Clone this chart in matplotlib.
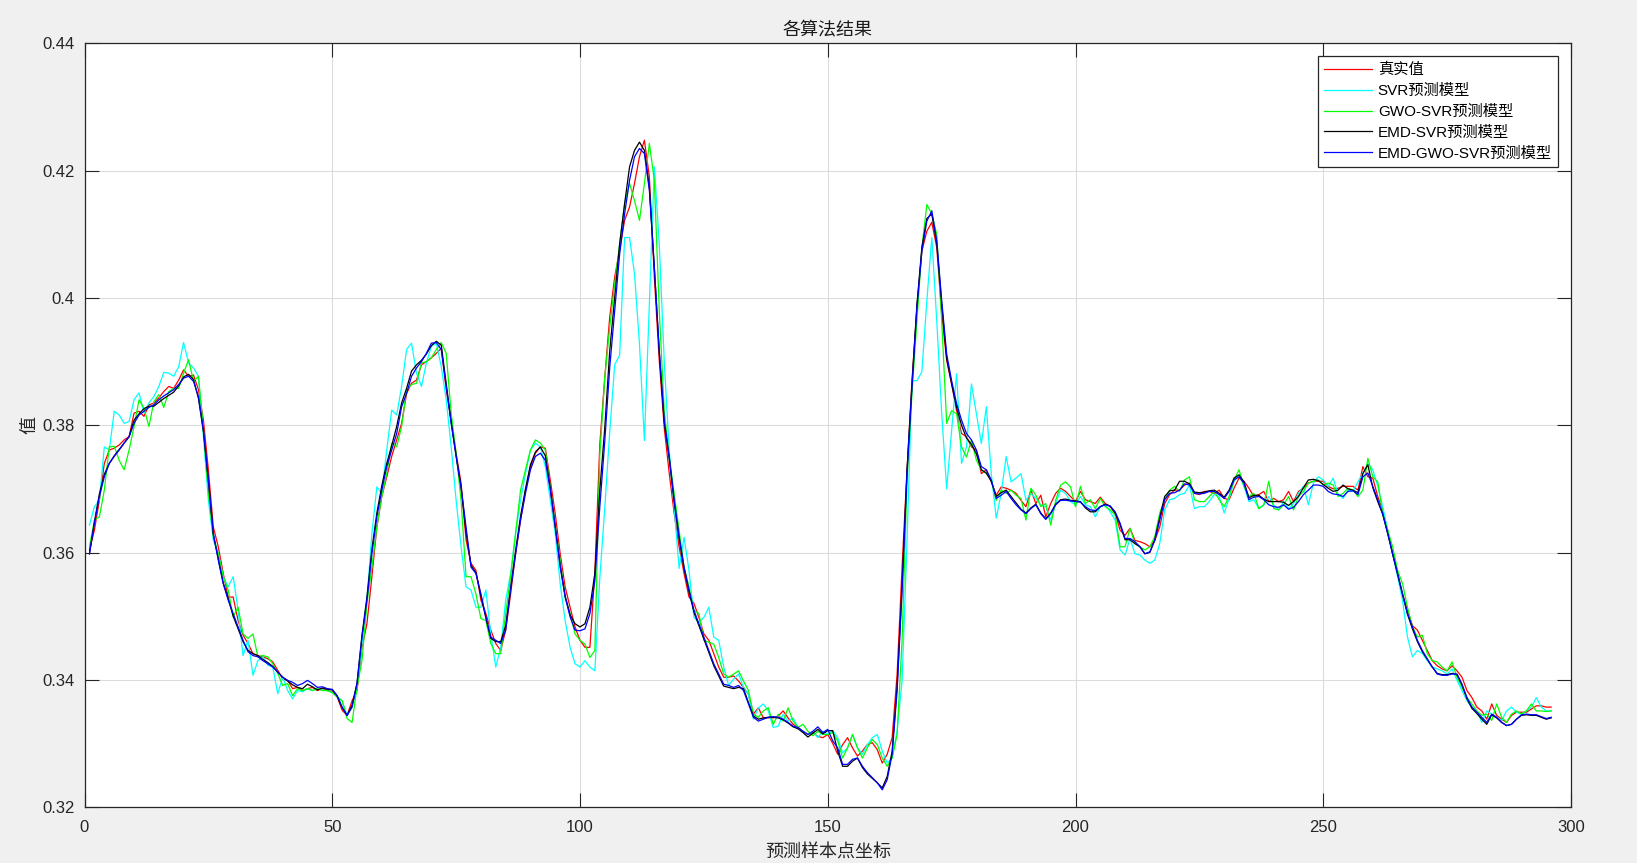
import matplotlib
matplotlib.use("Agg")
import matplotlib.pyplot as plt
import numpy as np

plt.rcParams["font.family"] = ["Liberation Sans", "Noto Sans CJK SC"]

# 真实值
true_vals = [
    0.3604, 0.3635, 0.3682, 0.3740, 0.3761, 0.3764, 0.3769, 0.3777, 0.3782, 0.3819,
    0.3822, 0.3814, 0.3832, 0.3835, 0.3843, 0.3853, 0.3861, 0.3858, 0.3871, 0.3887,
    0.3877, 0.3879, 0.3856, 0.3808, 0.3730, 0.3640, 0.3609, 0.3567, 0.3530, 0.3530,
    0.3493, 0.3470, 0.3457, 0.3441, 0.3438, 0.3436, 0.3433, 0.3428, 0.3415, 0.3401,
    0.3399, 0.3386, 0.3388, 0.3383, 0.3386, 0.3388, 0.3383, 0.3386, 0.3383, 0.3381,
    0.3373, 0.3352, 0.3344, 0.3367, 0.3383, 0.3451, 0.3488, 0.3562, 0.3640, 0.3688,
    0.3719, 0.3751, 0.3777, 0.3803, 0.3850, 0.3866, 0.3871, 0.3895, 0.3900, 0.3906,
    0.3913, 0.3921, 0.3856, 0.3808, 0.3756, 0.3709, 0.3620, 0.3583, 0.3572, 0.3525,
    0.3504, 0.3478, 0.3457, 0.3446, 0.3478, 0.3535, 0.3598, 0.3651, 0.3698, 0.3735,
    0.3756, 0.3766, 0.3764, 0.3714, 0.3661, 0.3598, 0.3546, 0.3514, 0.3483, 0.3462,
    0.3451, 0.3451, 0.3570, 0.3770, 0.3875, 0.3970, 0.4033, 0.4075, 0.4122, 0.4143,
    0.4180, 0.4222, 0.4248, 0.4190, 0.4033, 0.3901, 0.3796, 0.3725, 0.3662, 0.3609,
    0.3567, 0.3530, 0.3520, 0.3498, 0.3472, 0.3462, 0.3441, 0.3420, 0.3404, 0.3404,
    0.3406, 0.3398, 0.3388, 0.3377, 0.3346, 0.3356, 0.3340, 0.3340, 0.3340, 0.3343,
    0.3351, 0.3340, 0.3330, 0.3325, 0.3319, 0.3314, 0.3317, 0.3311, 0.3309, 0.3314,
    0.3300, 0.3283, 0.3298, 0.3309, 0.3293, 0.3280, 0.3288, 0.3298, 0.3301, 0.3290,
    0.3269, 0.3283, 0.3309, 0.3409, 0.3577, 0.3730, 0.3870, 0.3985, 0.4074, 0.4105,
    0.4119, 0.4079, 0.3975, 0.3902, 0.3865, 0.3823, 0.3787, 0.3782, 0.3766, 0.3761,
    0.3724, 0.3730, 0.3711, 0.3690, 0.3703, 0.3701, 0.3698, 0.3693, 0.3682, 0.3672,
    0.3698, 0.3677, 0.3690, 0.3656, 0.3677, 0.3693, 0.3701, 0.3696, 0.3688, 0.3680,
    0.3696, 0.3683, 0.3680, 0.3677, 0.3687, 0.3677, 0.3672, 0.3662, 0.3635, 0.3627,
    0.3638, 0.3619, 0.3617, 0.3614, 0.3609, 0.3619, 0.3640, 0.3677, 0.3691, 0.3698,
    0.3698, 0.3706, 0.3709, 0.3693, 0.3691, 0.3696, 0.3696, 0.3693, 0.3698, 0.3685,
    0.3683, 0.3701, 0.3717, 0.3712, 0.3701, 0.3688, 0.3691, 0.3696, 0.3680, 0.3685,
    0.3680, 0.3683, 0.3696, 0.3680, 0.3696, 0.3701, 0.3709, 0.3712, 0.3712, 0.3712,
    0.3704, 0.3700, 0.3701, 0.3704, 0.3704, 0.3704, 0.3698, 0.3735, 0.3719, 0.3717,
    0.3688, 0.3667, 0.3635, 0.3598, 0.3567, 0.3535, 0.3509, 0.3485, 0.3478, 0.3462,
    0.3446, 0.3430, 0.3422, 0.3417, 0.3414, 0.3422, 0.3414, 0.3404, 0.3383, 0.3372,
    0.3357, 0.3351, 0.3338, 0.3362, 0.3344, 0.3338, 0.3333, 0.3344, 0.3349, 0.3349,
    0.3349, 0.3354, 0.3359, 0.3359, 0.3357, 0.3357,
]

# SVR预测模型
svr_vals = [
    0.3643, 0.3672, 0.3682, 0.3766, 0.3761, 0.3822, 0.3816, 0.3803, 0.3806, 0.3840,
    0.3851, 0.3819, 0.3835, 0.3845, 0.3861, 0.3883, 0.3882, 0.3877, 0.3892, 0.3930,
    0.3898, 0.3890, 0.3877, 0.3782, 0.3682, 0.3619, 0.3598, 0.3562, 0.3546, 0.3562,
    0.3509, 0.3438, 0.3462, 0.3407, 0.3430, 0.3436, 0.3423, 0.3420, 0.3378, 0.3404,
    0.3383, 0.3370, 0.3383, 0.3381, 0.3386, 0.3383, 0.3386, 0.3384, 0.3383, 0.3380,
    0.3373, 0.3367, 0.3344, 0.3357, 0.3388, 0.3457, 0.3525, 0.3630, 0.3703, 0.3693,
    0.3761, 0.3824, 0.3816, 0.3861, 0.3919, 0.3929, 0.3882, 0.3861, 0.3898, 0.3924,
    0.3929, 0.3892, 0.3840, 0.3766, 0.3682, 0.3609, 0.3546, 0.3541, 0.3514, 0.3514,
    0.3541, 0.3472, 0.3420, 0.3451, 0.3525, 0.3567, 0.3630, 0.3682, 0.3724, 0.3761,
    0.3772, 0.3766, 0.3735, 0.3682, 0.3630, 0.3551, 0.3493, 0.3451, 0.3425, 0.3420,
    0.3430, 0.3420, 0.3414, 0.3560, 0.3670, 0.3790, 0.3895, 0.3910, 0.4095, 0.4095,
    0.4038, 0.3928, 0.3776, 0.3990, 0.4206, 0.4085, 0.3901, 0.3760, 0.3672, 0.3575,
    0.3624, 0.3572, 0.3498, 0.3490, 0.3498, 0.3514, 0.3467, 0.3462, 0.3420, 0.3391,
    0.3401, 0.3409, 0.3388, 0.3377, 0.3338, 0.3356, 0.3362, 0.3351, 0.3325, 0.3327,
    0.3346, 0.3335, 0.3340, 0.3325, 0.3319, 0.3314, 0.3319, 0.3309, 0.3319, 0.3314,
    0.3320, 0.3309, 0.3285, 0.3293, 0.3314, 0.3293, 0.3283, 0.3298, 0.3309, 0.3314,
    0.3288, 0.3269, 0.3277, 0.3320, 0.3398, 0.3619, 0.3870, 0.3870, 0.3884, 0.3996,
    0.4095, 0.3964, 0.3818, 0.3700, 0.3792, 0.3881, 0.3740, 0.3766, 0.3865, 0.3818,
    0.3771, 0.3829, 0.3724, 0.3654, 0.3693, 0.3751, 0.3711, 0.3717, 0.3724, 0.3682,
    0.3693, 0.3685, 0.3675, 0.3672, 0.3651, 0.3677, 0.3698, 0.3693, 0.3680, 0.3675,
    0.3688, 0.3675, 0.3672, 0.3656, 0.3672, 0.3675, 0.3664, 0.3651, 0.3604, 0.3596,
    0.3622, 0.3598, 0.3596, 0.3588, 0.3583, 0.3588, 0.3614, 0.3667, 0.3683, 0.3685,
    0.3691, 0.3693, 0.3706, 0.3669, 0.3672, 0.3672, 0.3680, 0.3691, 0.3688, 0.3662,
    0.3685, 0.3712, 0.3722, 0.3704, 0.3680, 0.3683, 0.3669, 0.3675, 0.3688, 0.3675,
    0.3667, 0.3680, 0.3669, 0.3677, 0.3693, 0.3704, 0.3675, 0.3709, 0.3719, 0.3714,
    0.3704, 0.3717, 0.3691, 0.3685, 0.3698, 0.3696, 0.3711, 0.3725, 0.3740, 0.3730,
    0.3704, 0.3672, 0.3635, 0.3598, 0.3562, 0.3525, 0.3467, 0.3436, 0.3446, 0.3441,
    0.3430, 0.3420, 0.3417, 0.3414, 0.3409, 0.3417, 0.3399, 0.3383, 0.3367, 0.3357,
    0.3351, 0.3333, 0.3351, 0.3346, 0.3341, 0.3336, 0.3351, 0.3357, 0.3349, 0.3346,
    0.3351, 0.3357, 0.3372, 0.3357, 0.3351, 0.3351,
]

# GWO-SVR预测模型
gwo_svr_vals = [
    0.3609, 0.3651, 0.3656, 0.3698, 0.3766, 0.3767, 0.3745, 0.3730, 0.3761, 0.3798,
    0.3840, 0.3827, 0.3798, 0.3837, 0.3848, 0.3828, 0.3853, 0.3858, 0.3858, 0.3882,
    0.3903, 0.3869, 0.3877, 0.3793, 0.3693, 0.3625, 0.3598, 0.3562, 0.3541, 0.3499,
    0.3514, 0.3472, 0.3465, 0.3472, 0.3436, 0.3438, 0.3436, 0.3425, 0.3410, 0.3391,
    0.3394, 0.3375, 0.3386, 0.3383, 0.3386, 0.3383, 0.3386, 0.3383, 0.3383, 0.3380,
    0.3373, 0.3367, 0.3339, 0.3333, 0.3388, 0.3430, 0.3520, 0.3577, 0.3640, 0.3688,
    0.3724, 0.3772, 0.3766, 0.3798, 0.3856, 0.3864, 0.3866, 0.3898, 0.3900, 0.3906,
    0.3919, 0.3930, 0.3913, 0.3819, 0.3756, 0.3682, 0.3562, 0.3562, 0.3535, 0.3496,
    0.3493, 0.3457, 0.3441, 0.3441, 0.3504, 0.3562, 0.3630, 0.3698, 0.3730, 0.3761,
    0.3777, 0.3772, 0.3761, 0.3703, 0.3640, 0.3588, 0.3530, 0.3504, 0.3472, 0.3462,
    0.3456, 0.3435, 0.3446, 0.3754, 0.3875, 0.3954, 0.4022, 0.4085, 0.4148, 0.4180,
    0.4153, 0.4122, 0.4180, 0.4243, 0.4185, 0.3980, 0.3823, 0.3751, 0.3693, 0.3635,
    0.3577, 0.3546, 0.3509, 0.3504, 0.3462, 0.3459, 0.3456, 0.3435, 0.3409, 0.3404,
    0.3409, 0.3414, 0.3398, 0.3383, 0.3346, 0.3341, 0.3351, 0.3356, 0.3330, 0.3346,
    0.3335, 0.3356, 0.3335, 0.3325, 0.3330, 0.3319, 0.3312, 0.3319, 0.3314, 0.3314,
    0.3317, 0.3304, 0.3277, 0.3293, 0.3314, 0.3293, 0.3277, 0.3293, 0.3306, 0.3298,
    0.3277, 0.3264, 0.3277, 0.3314, 0.3462, 0.3714, 0.3850, 0.3964, 0.4079, 0.4147,
    0.4132, 0.4100, 0.3964, 0.3803, 0.3823, 0.3818, 0.3766, 0.3750, 0.3777, 0.3745,
    0.3730, 0.3724, 0.3714, 0.3682, 0.3698, 0.3693, 0.3698, 0.3690, 0.3685, 0.3651,
    0.3701, 0.3690, 0.3672, 0.3677, 0.3643, 0.3682, 0.3706, 0.3711, 0.3703, 0.3672,
    0.3704, 0.3677, 0.3683, 0.3669, 0.3685, 0.3672, 0.3667, 0.3659, 0.3609, 0.3609,
    0.3638, 0.3614, 0.3609, 0.3604, 0.3609, 0.3625, 0.3662, 0.3683, 0.3698, 0.3704,
    0.3696, 0.3714, 0.3719, 0.3683, 0.3680, 0.3680, 0.3688, 0.3696, 0.3683, 0.3672,
    0.3688, 0.3714, 0.3730, 0.3704, 0.3688, 0.3693, 0.3669, 0.3675, 0.3712, 0.3669,
    0.3667, 0.3675, 0.3688, 0.3667, 0.3688, 0.3696, 0.3709, 0.3712, 0.3714, 0.3706,
    0.3709, 0.3706, 0.3688, 0.3693, 0.3701, 0.3698, 0.3688, 0.3698, 0.3748, 0.3719,
    0.3711, 0.3661, 0.3635, 0.3609, 0.3572, 0.3551, 0.3514, 0.3483, 0.3467, 0.3470,
    0.3441, 0.3430, 0.3428, 0.3420, 0.3414, 0.3428, 0.3404, 0.3388, 0.3372, 0.3362,
    0.3351, 0.3344, 0.3346, 0.3336, 0.3362, 0.3341, 0.3333, 0.3346, 0.3351, 0.3346,
    0.3351, 0.3362, 0.3351, 0.3351, 0.3350, 0.3351,
]

# EMD-SVR预测模型
emd_svr_vals = [
    0.3598, 0.3648, 0.3692, 0.3723, 0.3740, 0.3752, 0.3762, 0.3772, 0.3782, 0.3808,
    0.3818, 0.3826, 0.3830, 0.3830, 0.3836, 0.3842, 0.3847, 0.3852, 0.3862, 0.3876,
    0.3880, 0.3872, 0.3842, 0.3790, 0.3712, 0.3628, 0.3590, 0.3552, 0.3528, 0.3500,
    0.3480, 0.3460, 0.3446, 0.3441, 0.3438, 0.3432, 0.3427, 0.3421, 0.3412, 0.3404,
    0.3398, 0.3392, 0.3388, 0.3386, 0.3393, 0.3389, 0.3384, 0.3387, 0.3385, 0.3384,
    0.3374, 0.3356, 0.3344, 0.3360, 0.3395, 0.3470, 0.3530, 0.3605, 0.3662, 0.3705,
    0.3740, 0.3768, 0.3798, 0.3835, 0.3858, 0.3885, 0.3895, 0.3902, 0.3912, 0.3925,
    0.3932, 0.3926, 0.3865, 0.3805, 0.3752, 0.3702, 0.3632, 0.3580, 0.3568, 0.3532,
    0.3497, 0.3465, 0.3460, 0.3460, 0.3485, 0.3545, 0.3603, 0.3657, 0.3700, 0.3738,
    0.3758, 0.3766, 0.3752, 0.3702, 0.3642, 0.3580, 0.3532, 0.3502, 0.3488, 0.3483,
    0.3488, 0.3514, 0.3567, 0.3698, 0.3796, 0.3917, 0.4001, 0.4085, 0.4148, 0.4206,
    0.4232, 0.4245, 0.4232, 0.4174, 0.4048, 0.3915, 0.3805, 0.3748, 0.3680, 0.3622,
    0.3575, 0.3538, 0.3506, 0.3485, 0.3464, 0.3443, 0.3422, 0.3406, 0.3390, 0.3388,
    0.3386, 0.3388, 0.3386, 0.3364, 0.3343, 0.3338, 0.3340, 0.3341, 0.3341, 0.3340,
    0.3337, 0.3332, 0.3326, 0.3323, 0.3317, 0.3310, 0.3316, 0.3322, 0.3315, 0.3320,
    0.3320, 0.3288, 0.3264, 0.3264, 0.3272, 0.3277, 0.3262, 0.3252, 0.3245, 0.3238,
    0.3230, 0.3248, 0.3288, 0.3390, 0.3548, 0.3730, 0.3865, 0.3990, 0.4080, 0.4125,
    0.4132, 0.4085, 0.3990, 0.3905, 0.3865, 0.3828, 0.3800, 0.3780, 0.3770, 0.3755,
    0.3730, 0.3725, 0.3712, 0.3688, 0.3694, 0.3698, 0.3688, 0.3678, 0.3668, 0.3662,
    0.3670, 0.3676, 0.3662, 0.3653, 0.3662, 0.3676, 0.3683, 0.3684, 0.3682, 0.3681,
    0.3680, 0.3670, 0.3664, 0.3664, 0.3672, 0.3676, 0.3673, 0.3662, 0.3644, 0.3620,
    0.3620, 0.3614, 0.3609, 0.3598, 0.3600, 0.3620, 0.3655, 0.3688, 0.3697, 0.3698,
    0.3712, 0.3712, 0.3708, 0.3695, 0.3694, 0.3695, 0.3697, 0.3698, 0.3693, 0.3687,
    0.3698, 0.3717, 0.3722, 0.3711, 0.3686, 0.3690, 0.3690, 0.3684, 0.3680, 0.3680,
    0.3680, 0.3679, 0.3674, 0.3680, 0.3688, 0.3702, 0.3714, 0.3715, 0.3713, 0.3707,
    0.3701, 0.3696, 0.3698, 0.3706, 0.3700, 0.3698, 0.3694, 0.3724, 0.3738, 0.3702,
    0.3680, 0.3660, 0.3630, 0.3598, 0.3566, 0.3534, 0.3503, 0.3480, 0.3460, 0.3444,
    0.3432, 0.3420, 0.3410, 0.3408, 0.3408, 0.3410, 0.3408, 0.3392, 0.3370, 0.3355,
    0.3347, 0.3338, 0.3330, 0.3345, 0.3340, 0.3333, 0.3328, 0.3330, 0.3338, 0.3344,
    0.3345, 0.3344, 0.3344, 0.3341, 0.3338, 0.3340,
]

# EMD-GWO-SVR预测模型
emd_gwo_svr_vals = [
    0.3598, 0.3646, 0.3688, 0.3719, 0.3740, 0.3751, 0.3761, 0.3772, 0.3782, 0.3803,
    0.3816, 0.3822, 0.3828, 0.3832, 0.3840, 0.3846, 0.3851, 0.3856, 0.3864, 0.3874,
    0.3877, 0.3869, 0.3845, 0.3793, 0.3714, 0.3630, 0.3588, 0.3551, 0.3525, 0.3504,
    0.3483, 0.3462, 0.3444, 0.3438, 0.3436, 0.3430, 0.3425, 0.3420, 0.3412, 0.3404,
    0.3399, 0.3396, 0.3391, 0.3394, 0.3399, 0.3394, 0.3388, 0.3389, 0.3386, 0.3385,
    0.3375, 0.3357, 0.3344, 0.3357, 0.3394, 0.3467, 0.3525, 0.3598, 0.3656, 0.3698,
    0.3735, 0.3761, 0.3787, 0.3829, 0.3850, 0.3877, 0.3890, 0.3900, 0.3913, 0.3929,
    0.3930, 0.3919, 0.3861, 0.3803, 0.3751, 0.3703, 0.3640, 0.3577, 0.3567, 0.3535,
    0.3499, 0.3467, 0.3462, 0.3457, 0.3478, 0.3541, 0.3598, 0.3651, 0.3693, 0.3730,
    0.3751, 0.3756, 0.3745, 0.3698, 0.3640, 0.3577, 0.3530, 0.3499, 0.3478, 0.3477,
    0.3480, 0.3504, 0.3556, 0.3672, 0.3775, 0.3891, 0.3980, 0.4069, 0.4132, 0.4185,
    0.4222, 0.4235, 0.4227, 0.4169, 0.4048, 0.3917, 0.3807, 0.3751, 0.3683, 0.3625,
    0.3577, 0.3541, 0.3509, 0.3488, 0.3467, 0.3446, 0.3425, 0.3409, 0.3393, 0.3391,
    0.3388, 0.3391, 0.3383, 0.3362, 0.3341, 0.3335, 0.3338, 0.3341, 0.3342, 0.3341,
    0.3338, 0.3333, 0.3327, 0.3325, 0.3319, 0.3314, 0.3319, 0.3326, 0.3317, 0.3322,
    0.3304, 0.3293, 0.3267, 0.3267, 0.3275, 0.3277, 0.3264, 0.3254, 0.3246, 0.3238,
    0.3227, 0.3243, 0.3283, 0.3383, 0.3540, 0.3724, 0.3860, 0.3985, 0.4074, 0.4121,
    0.4137, 0.4090, 0.3996, 0.3912, 0.3870, 0.3834, 0.3808, 0.3787, 0.3777, 0.3761,
    0.3735, 0.3730, 0.3714, 0.3685, 0.3690, 0.3696, 0.3685, 0.3675, 0.3667, 0.3661,
    0.3669, 0.3675, 0.3661, 0.3652, 0.3661, 0.3675, 0.3682, 0.3682, 0.3681, 0.3680,
    0.3679, 0.3672, 0.3667, 0.3666, 0.3672, 0.3675, 0.3673, 0.3664, 0.3646, 0.3622,
    0.3622, 0.3617, 0.3609, 0.3598, 0.3601, 0.3619, 0.3651, 0.3683, 0.3693, 0.3694,
    0.3698, 0.3708, 0.3706, 0.3693, 0.3692, 0.3693, 0.3696, 0.3696, 0.3691, 0.3685,
    0.3696, 0.3714, 0.3719, 0.3709, 0.3683, 0.3687, 0.3688, 0.3683, 0.3675, 0.3672,
    0.3671, 0.3675, 0.3668, 0.3671, 0.3680, 0.3691, 0.3698, 0.3706, 0.3706, 0.3704,
    0.3696, 0.3692, 0.3691, 0.3688, 0.3696, 0.3697, 0.3691, 0.3719, 0.3725, 0.3704,
    0.3683, 0.3661, 0.3630, 0.3598, 0.3567, 0.3535, 0.3504, 0.3483, 0.3462, 0.3446,
    0.3433, 0.3420, 0.3409, 0.3407, 0.3407, 0.3409, 0.3409, 0.3393, 0.3372, 0.3357,
    0.3349, 0.3341, 0.3333, 0.3346, 0.3341, 0.3333, 0.3328, 0.3330, 0.3338, 0.3345,
    0.3346, 0.3345, 0.3345, 0.3342, 0.3339, 0.3341,
]

labels = ["真实值", "SVR预测模型", "GWO-SVR预测模型", "EMD-SVR预测模型", "EMD-GWO-SVR预测模型"]
colors = ["#ff0000", "#00ffff", "#00ff00", "#000000", "#0000ff"]
x_ticks = [0, 50, 100, 150, 200, 250, 300]
y_ticks = [0.32, 0.34, 0.36, 0.38, 0.40, 0.42, 0.44]

series = [true_vals, svr_vals, gwo_svr_vals, emd_svr_vals, emd_gwo_svr_vals]
x = np.arange(1, len(true_vals) + 1)

W, H = 1637, 863
fig = plt.figure(figsize=(W / 100, H / 100), dpi=100, facecolor="#f0f0f0")
ax = fig.add_axes([84.5 / W, 56 / H, 1486.5 / W, 763.5 / H])
ax.set_facecolor("white")

for vals, lab, col in zip(series, labels, colors):
    ax.plot(x, vals, color=col, linewidth=0.9, label=lab)

ax.set_xlim(0, 300)
ax.set_ylim(0.32, 0.44)
ax.set_xticks(x_ticks)
ax.set_yticks(y_ticks)
ax.set_yticklabels(["%g" % v for v in y_ticks])
ax.grid(True, color="#dcdcdc", linewidth=0.8)
ax.set_axisbelow(True)
ax.tick_params(direction="in", length=10, width=0.8, top=True, right=True,
               labelsize=12, colors="#262626")
ax.tick_params(axis="x", pad=9)
ax.tick_params(axis="y", pad=7)
for s in ax.spines.values():
    s.set_color("#262626")
    s.set_linewidth(0.9)

ax.set_title("各算法结果", fontsize=13, color="#1a1a1a", pad=6)
ax.set_xlabel("预测样本点坐标", fontsize=13, color="#262626", labelpad=7)
ax.set_ylabel("值", fontsize=13, color="#262626", labelpad=3)

leg = ax.legend(loc="upper right", fontsize=11, frameon=True, fancybox=False,
                edgecolor="#262626", framealpha=1, borderaxespad=0.85,
                handlelength=3.1, labelspacing=0.45, handletextpad=0.4,
                borderpad=0.4)
leg.get_frame().set_linewidth(0.9)

fig.savefig("out.png", dpi=100, facecolor=fig.get_facecolor())
